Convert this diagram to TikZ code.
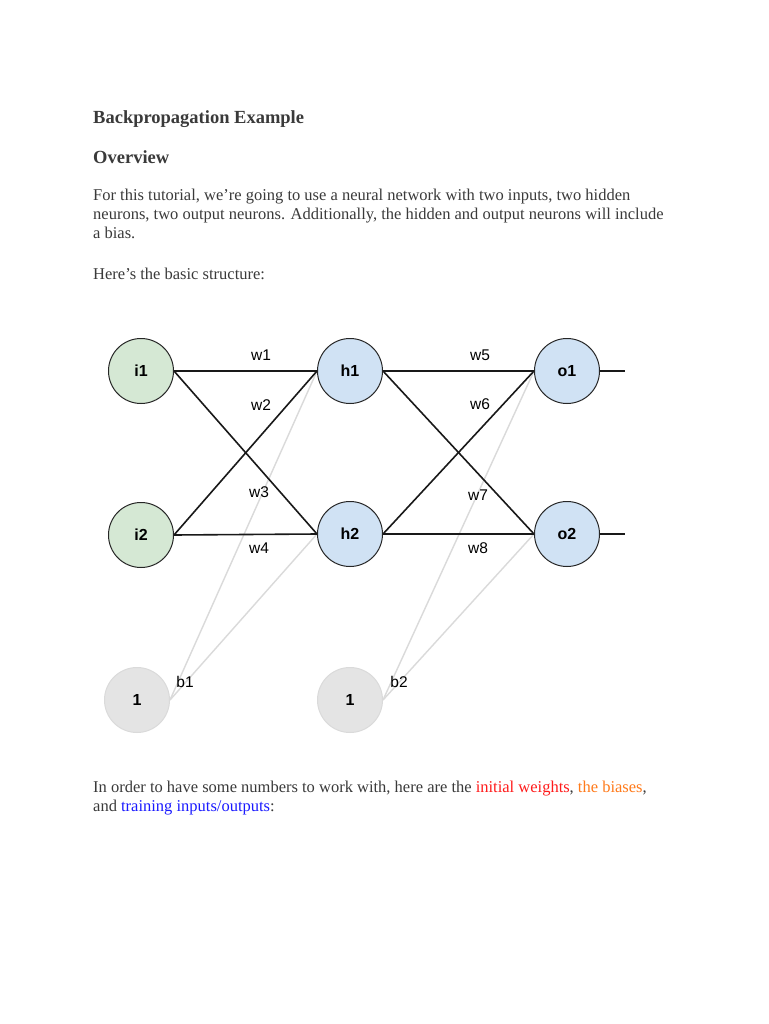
\documentclass[tikz,border=0pt]{standalone}
\usepackage{fontspec}
\usetikzlibrary{backgrounds}
\setmainfont{Liberation Serif}
\setsansfont{Liberation Sans}
\definecolor{txt}{HTML}{3A3A3A}
\definecolor{ingreen}{HTML}{D5E8D4}
\definecolor{hidblue}{HTML}{D0E2F4}
\definecolor{biasgray}{HTML}{E4E4E4}
\definecolor{biasline}{HTML}{DADADA}
\definecolor{wred}{HTML}{FF1A1A}
\definecolor{borange}{HTML}{FF7A1A}
\definecolor{tblue}{HTML}{1A1AFF}
\begin{document}
\begin{tikzpicture}[x=1pt,y=-1pt,
  para/.style={anchor=base west,inner sep=0pt,text=txt,font=\fontsize{16.5}{19}\selectfont},
  head/.style={anchor=base west,inner sep=0pt,text=txt,font=\bfseries\fontsize{18.5}{21}\selectfont},
  neuron/.style={circle,draw=black!85,line width=1pt,minimum size=65pt,inner sep=0pt,font=\sffamily\bfseries\fontsize{16}{18}\selectfont},
  innode/.style={neuron,fill=ingreen},
  hidnode/.style={neuron,fill=hidblue},
  biasnode/.style={neuron,fill=biasgray,draw=biasline},
  wlabel/.style={inner sep=0pt,font=\sffamily\fontsize{15.5}{17}\selectfont},
  edge/.style={line width=1.6pt,black!90},
  bedge/.style={line width=1.4pt,biasline}
]
\begin{scope}[on background layer]
\fill[white] (0,0) rectangle (768,1024);
\end{scope}
\useasboundingbox (0,0) rectangle (768,1024);

% text
\node[head] (t1) at (93,124) {Backpropagation Example};
\node[head] (t2) at (93,164) {Overview};
\node[para] (p1) at (93,201) {For this tutorial, we’re going to use a neural network with two inputs, two hidden};
\node[para] (p2) at (93,220) {neurons, two output neurons. Additionally, the hidden and output neurons will include};
\node[para] (p3) at (93,239) {a bias.};
\node[para] (p4) at (93,279) {Here’s the basic structure:};
\node[para] (p5) at (93,792) {In order to have some numbers to work with, here are the \textcolor{wred}{initial weights}, \textcolor{borange}{the biases},};
\node[para] (p6) at (93,811) {and \textcolor{tblue}{training inputs/outputs}:};

% nodes
\node[innode] (i1) at (141,371) {i1};
\node[innode] (i2) at (141,535) {i2};
\node[hidnode] (h1) at (350,371) {h1};
\node[hidnode] (h2) at (350,534) {h2};
\node[hidnode] (o1) at (567,371) {o1};
\node[hidnode] (o2) at (567,534) {o2};
\node[biasnode] (b1) at (137,700) {1};
\node[biasnode] (b2) at (350,700) {1};
\coordinate (out1) at (625,371);
\coordinate (out2) at (625,534);

% edges
\begin{scope}[on background layer]
\draw[bedge] (b1.east) -- (h1.west);
\draw[bedge] (b1.east) -- (h2.west);
\draw[bedge] (b2.east) -- (o1.west);
\draw[bedge] (b2.east) -- (o2.west);
\draw[edge] (i1.east) -- (h1.west);
\draw[edge] (i1.east) -- (h2.west);
\draw[edge] (i2.east) -- (h1.west);
\draw[edge] (i2.east) -- (h2.west);
\draw[edge] (h1.east) -- (o1.west);
\draw[edge] (h1.east) -- (o2.west);
\draw[edge] (h2.east) -- (o1.west);
\draw[edge] (h2.east) -- (o2.west);
\draw[edge] (o1.east) -- (out1);
\draw[edge] (o2.east) -- (out2);
\end{scope}

% labels
\node[wlabel] (lw1) at (261,355) {w1};
\node[wlabel] (lw2) at (261,405) {w2};
\node[wlabel] (lw3) at (259,492) {w3};
\node[wlabel] (lw4) at (259,548) {w4};
\node[wlabel] (lw5) at (480,355) {w5};
\node[wlabel] (lw6) at (480,404) {w6};
\node[wlabel] (lw7) at (478,495) {w7};
\node[wlabel] (lw8) at (478,548) {w8};
\node[wlabel] (lb1) at (185,682) {b1};
\node[wlabel] (lb2) at (399,682) {b2};
\end{tikzpicture}
\end{document}
